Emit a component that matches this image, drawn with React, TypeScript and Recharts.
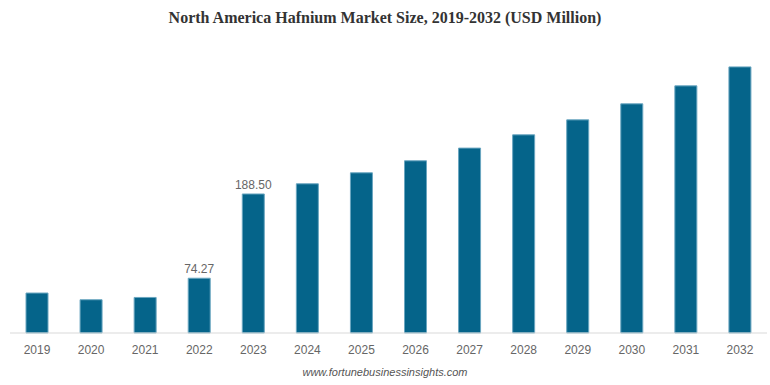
import React from 'react';
import { BarChart, Bar, XAxis, YAxis, LabelList } from 'recharts';

const years = ['2019','2020','2021','2022','2023','2024','2025','2026','2027','2028','2029','2030','2031','2032'];
const values = [54.2, 45.1, 48.2, 74.27, 188.5, 202.3, 217.2, 233.5, 250.7, 268.7, 289.0, 310.7, 335.1, 360.8];
const labels = ['', '', '', '74.27', '188.50', '', '', '', '', '', '', '', '', ''];

const data = years.map((y, i) => ({ year: y, value: values[i], label: labels[i] }));

export default function App() {
  return (
    <div style={{ position: 'absolute', left: 0, top: 0, width: 770, height: 385, background: '#fff' }}>
      <div style={{ position: 'absolute', left: 0, top: 9, width: 770, textAlign: 'center', fontFamily: '"Liberation Serif", "Times New Roman", serif', fontWeight: 'bold', fontSize: 16, color: '#333' }}>
        North America Hafnium Market Size, 2019-2032 (USD Million)
      </div>
      <BarChart width={770} height={385} data={data} margin={{ top: 38, right: 3, left: 10, bottom: 22 }} barSize={22}>
        <XAxis dataKey="year" axisLine={{ stroke: '#d9d9d9' }} tickLine={false} height={30}
          tick={{ fill: '#666', fontSize: 12, fontFamily: '"Liberation Sans", Arial, sans-serif' }} tickMargin={6} interval={0} />
        <YAxis hide domain={[0, 400]} />
        <Bar dataKey="value" fill="#05648a" stroke="#6aa6c0" strokeWidth={1} isAnimationActive={false}>
          <LabelList dataKey="label" position="top" offset={5} fill="#666" fontSize={12} fontFamily='"Liberation Sans", Arial, sans-serif' />
        </Bar>
      </BarChart>
      <div style={{ position: 'absolute', left: 0, top: 366, width: 770, textAlign: 'center', fontFamily: '"Liberation Sans", Arial, sans-serif', fontStyle: 'italic', fontSize: 11, color: '#555' }}>
        www.fortunebusinessinsights.com
      </div>
    </div>
  );
}
